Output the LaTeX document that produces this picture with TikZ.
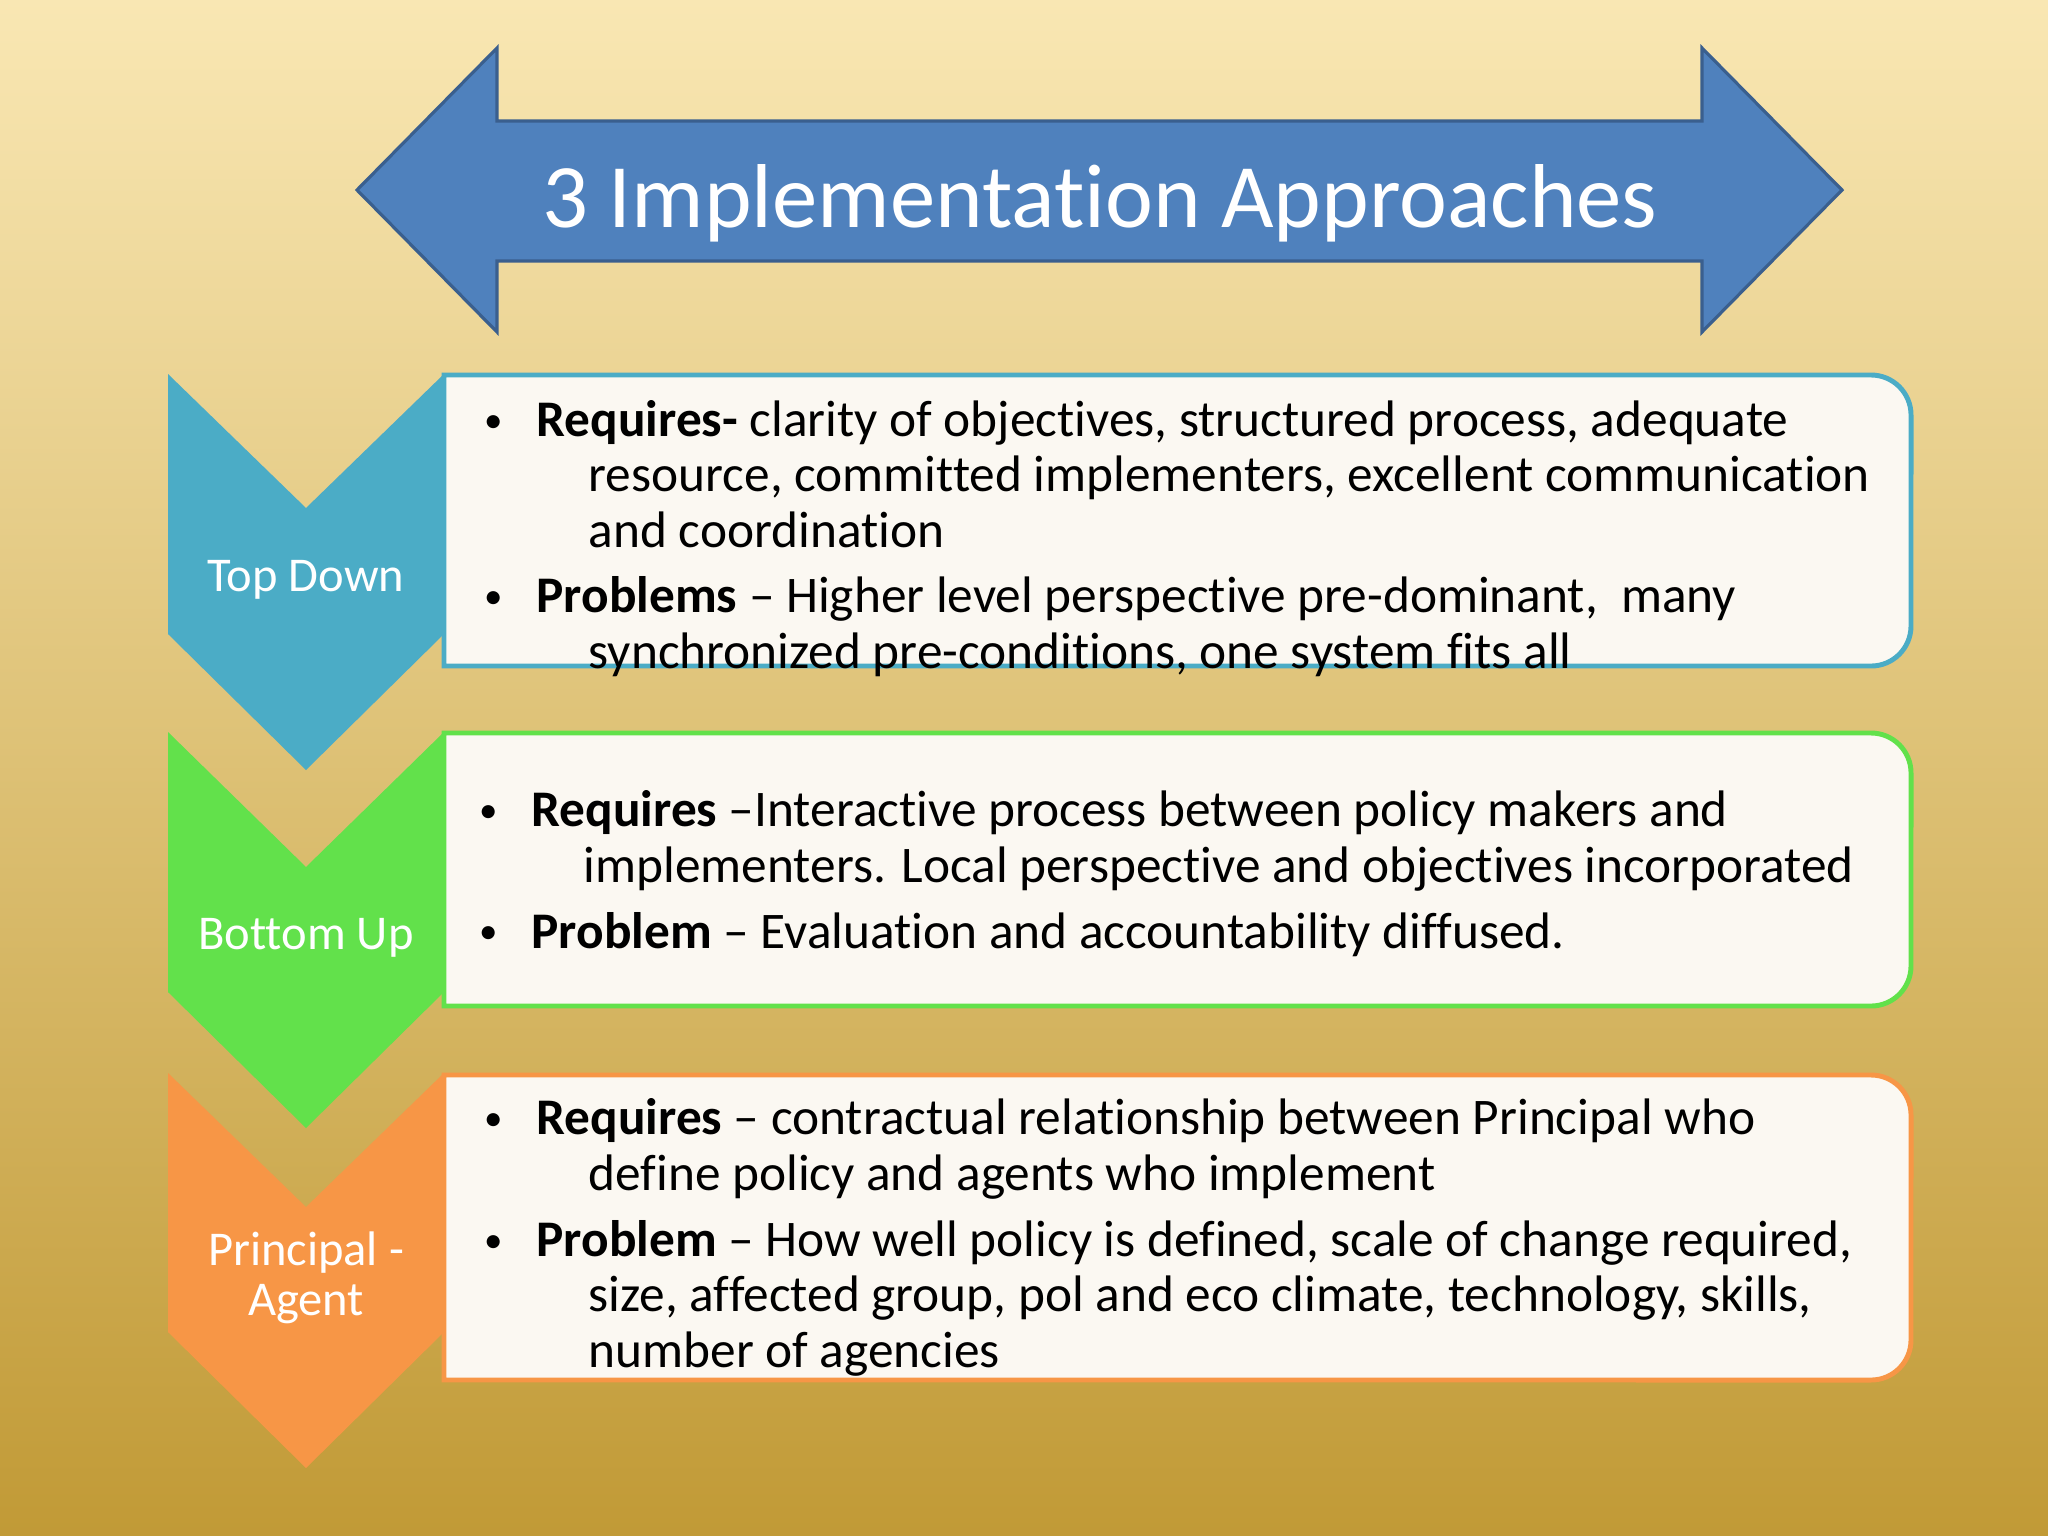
\documentclass[tikz,border=0pt]{standalone}
\usepackage{fontspec}
\setmainfont{Carlito}[Ligatures={TeX,NoCommon}]
\usepackage{tikz}

\definecolor{tdblue}{HTML}{4BACC6}
\definecolor{bugreen}{HTML}{62E14B}
\definecolor{paorange}{HTML}{F79646}
\definecolor{arrowblue}{HTML}{4F81BD}
\definecolor{arrowedge}{HTML}{3A5F8E}
\definecolor{cardfill}{HTML}{FBF8F2}
\definecolor{bgtop}{HTML}{F9E7B3}
\definecolor{bgmid}{HTML}{DEBB6C}
\definecolor{bgbot}{HTML}{C19A36}

\newcommand{\bul}{\makebox[15.9pt][l]{\hspace{1pt}\raisebox{1.3pt}{\fontsize{10.5}{10}\selectfont\textbullet}}}
\newcommand{\cont}{\hspace*{30.7pt}}

\begin{document}
\begin{tikzpicture}[x=0.01cm,y=-0.01cm,
  pointtext/.style={anchor=base west, inner sep=0pt, align=left,
    font=\fontsize{14.6}{15.65}\selectfont},
  chevtext/.style={text=white, inner sep=0pt, align=center,
    font=\fontsize{13.8}{14.2}\selectfont},
  titletext/.style={text=white, anchor=base, inner sep=0pt,
    font=\fontsize{25.8}{30}\selectfont},
  card/.style={fill=cardfill, line width=1.4pt},
  bigarrow/.style={fill=arrowblue, draw=arrowedge, line width=0.9pt, line join=miter}]
\useasboundingbox (0,0) rectangle (2048,1536);
\shade[top color=bgtop, middle color=bgmid, bottom color=bgbot] (0,0) rectangle (2048,1536);

% title arrow
\draw[bigarrow] (357,190) -- (497,48) -- (497,121) -- (1702,121) -- (1702,48) -- (1842,190)
  -- (1702,332) -- (1702,261) -- (497,261) -- (497,332) -- cycle;
\node[titletext] (title) at (1100,227) {3 Implementation Approaches};

% chevrons
\fill[tdblue] (168,374) -- (306,508) -- (444,374) -- (444,634) -- (306,770) -- (168,634) -- cycle;
\fill[bugreen] (168,732) -- (306,867) -- (444,732) -- (444,992) -- (306,1128) -- (168,992) -- cycle;
\fill[paorange] (168,1073) -- (306,1207) -- (444,1073) -- (444,1332) -- (306,1468) -- (168,1332) -- cycle;

% cards
\draw[card, draw=tdblue] (444,666) -- (444,375) -- (1871,375) arc[start angle=90, end angle=0, radius=0.4cm]
  -- (1911,626) arc[start angle=0, end angle=-90, radius=0.4cm] -- cycle;
\draw[card, draw=bugreen] (444,1006) -- (444,733) -- (1871,733) arc[start angle=90, end angle=0, radius=0.4cm]
  -- (1911,966) arc[start angle=0, end angle=-90, radius=0.4cm] -- cycle;
\draw[card, draw=paorange] (444,1380) -- (444,1075) -- (1871,1075) arc[start angle=90, end angle=0, radius=0.4cm]
  -- (1911,1340) arc[start angle=0, end angle=-90, radius=0.4cm] -- cycle;

% chevron labels
\node[chevtext] (td) at (306,580) {Top Down};
\node[chevtext] (bu) at (306,938) {Bottom Up};
\node[chevtext] (pa) at (306,1278) {Principal -\\Agent};

% top down (nodes sit on the baseline of their last line)
\node[pointtext] (tdreq) at (480,547) {\bul\textbf{Requires-} clarity of objectives, structured process, adequate\\
  \cont resource, committed implementers, excellent communication\\
  \cont and coordination};
\node[pointtext] (tdprob) at (480,668) {\bul\textbf{Problems} -- Higher level perspective pre-dominant,\ \ many\\
  \cont synchronized pre-conditions, one system fits all};

% bottom up
\node[pointtext] (bureq) at (475,882) {\bul\textbf{Requires} --Interactive process between policy makers and\\
  \cont implementers. Local perspective and objectives incorporated};
\node[pointtext] (buprob) at (475,948) {\bul\textbf{Problem} -- Evaluation and accountability diffused.};

% principal agent
\node[pointtext] (pareq) at (480,1190) {\bul\textbf{Requires} -- contractual relationship between Principal who\\
  \cont define policy and agents who implement};
\node[pointtext] (paprob) at (480,1367) {\bul\textbf{Problem} -- How well policy is defined, scale of change required,\\
  \cont size, affected group, pol and eco climate, technology, skills,\\
  \cont number of agencies};
\end{tikzpicture}
\end{document}
